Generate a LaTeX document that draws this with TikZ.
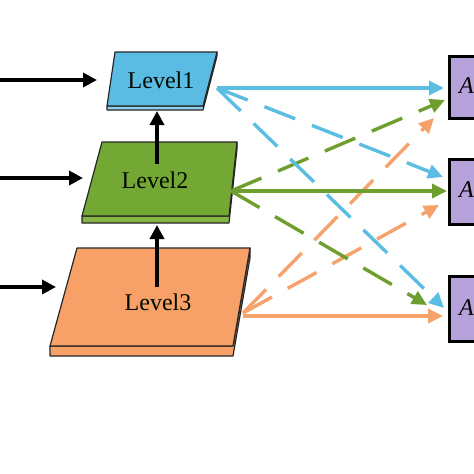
\documentclass[tikz,border=0pt]{standalone}
\usepackage{fontspec}
\setmainfont{Liberation Serif}
\usetikzlibrary{arrows.meta}
\definecolor{cBlue}{HTML}{5CBDE2}
\definecolor{cGreen}{HTML}{6E9F2E}
\definecolor{cOrange}{HTML}{F5A26C}
\definecolor{fBlue}{HTML}{5ABBE3}
\definecolor{fBlueS}{HTML}{8FD0EC}
\definecolor{fGreen}{HTML}{74A834}
\definecolor{fGreenS}{HTML}{86B545}
\definecolor{fOrange}{HTML}{F7A068}
\definecolor{fPurple}{HTML}{B6A2DA}
\tikzset{
  slab/.style={draw=black!85, line width=1.2pt, line join=round},
  lvltext/.style={font=\fontsize{24}{28}\selectfont, text=black!80!green!20!black, inner sep=0pt},
  blk/.style={line width=3.5pt, draw=black, -{Triangle[length=14pt,width=14pt]}},
  carrow/.style={line width=3.4pt, -{Triangle[length=15pt,width=14pt]}},
  dsh/.style={dash pattern=on 33pt off 18pt},
  abox/.style={draw=black, line width=2.5pt, fill=fPurple, minimum width=70pt, anchor=north west, inner sep=0pt},
  atext/.style={font=\fontsize{24}{28}\selectfont\itshape, anchor=west, inner sep=0pt}
}
\begin{document}
\begin{tikzpicture}[x=1pt,y=-1pt]
\useasboundingbox (0,0) rectangle (474,474);
% Level3 slab
\filldraw[slab, fill=fOrange] (50,346) -- (233,346) -- (250,248) -- (250,258) -- (233,356) -- (50,356) -- cycle;
\filldraw[slab, fill=fOrange] (77,248) -- (250,248) -- (233,346) -- (50,346) -- cycle;
% Level2 slab
\filldraw[slab, fill=fGreenS] (82,216) -- (229,216) -- (237,142) -- (237,149) -- (229,223) -- (82,223) -- cycle;
\filldraw[slab, fill=fGreen] (102,142) -- (237,142) -- (229,216) -- (82,216) -- cycle;
% Level1 slab
\filldraw[slab, fill=fBlueS] (107,106) -- (203,106) -- (217,52) -- (217,56) -- (203,110) -- (107,110) -- cycle;
\filldraw[slab, fill=fBlue] (115,52) -- (217,52) -- (203,106) -- (107,106) -- cycle;
% level labels
\node[lvltext] (L1) at (161,80) {Level1};
\node[lvltext] (L2) at (155,180) {Level2};
\node[lvltext] (L3) at (158,302) {Level3};
% output boxes
\node[abox, minimum height=62pt] (A1) at (448,55) {};
\node[abox, minimum height=65pt] (A2) at (448,158) {};
\node[abox, minimum height=65pt] (A3) at (448,275) {};
\node[atext] (A1t) at (459,86) {A};
\node[atext] (A2t) at (459,190) {A};
\node[atext] (A3t) at (459,308) {A};
% connection points
\coordinate (in1) at (0,80);   \coordinate (e1) at (97,80);
\coordinate (in2) at (0,178);  \coordinate (e2) at (83,178);
\coordinate (in3) at (0,287);  \coordinate (e3) at (56,287);
\coordinate (u2) at (157,164); \coordinate (d1) at (157,111);
\coordinate (u3) at (157,287); \coordinate (d2) at (157,225);
\coordinate (sB) at (217,88);
\coordinate (sG) at (231,191);
\coordinate (sO) at (243,313);
\coordinate (sO3) at (243,316);
\coordinate (tB1) at (444,88);
\coordinate (tB2) at (443,177);
\coordinate (tB3) at (444,308);
\coordinate (tG1) at (445,100);
\coordinate (tG2) at (447,191);
\coordinate (tG3) at (427,305);
\coordinate (tO1) at (434,118);
\coordinate (tO2) at (439,205);
\coordinate (tO3) at (443,316);
% black arrows
\draw[blk] (in1) -- (e1);
\draw[blk] (in2) -- (e2);
\draw[blk] (in3) -- (e3);
\draw[blk] (u2) -- (d1);
\draw[blk] (u3) -- (d2);
% coloured connectors
\draw[carrow, cOrange, dsh] (sO) -- (tO1);
\draw[carrow, cOrange, dsh] (sO) -- (tO2);
\draw[carrow, cOrange] (sO3) -- (tO3);
\draw[carrow, cGreen, dsh] (sG) -- (tG1);
\draw[carrow, cGreen] (sG) -- (tG2);
\draw[carrow, cGreen, dsh] (sG) -- (tG3);
\draw[carrow, cBlue] (sB) -- (tB1);
\draw[carrow, cBlue, dsh] (sB) -- (tB2);
\draw[carrow, cBlue, dsh] (sB) -- (tB3);
\end{tikzpicture}
\end{document}
